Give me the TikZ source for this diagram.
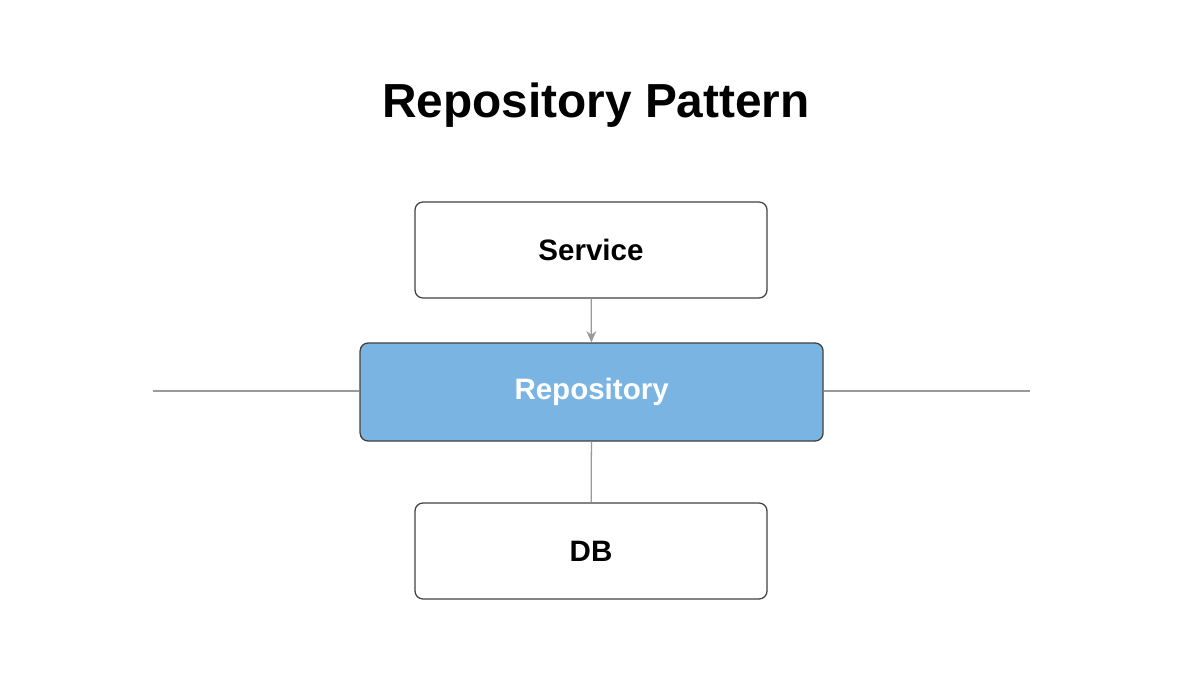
\documentclass[tikz,border=0pt]{standalone}
\usepackage{fontspec}
\setmainfont{Liberation Sans}
\usetikzlibrary{positioning, arrows.meta}
\definecolor{repoblue}{HTML}{7AB4E3}
\definecolor{linegray}{HTML}{9A9A9A}

\begin{document}
\begin{tikzpicture}
	\useasboundingbox (0,0) rectangle (30,16.875);
	\tikzset{box/.style={draw=black!75, line width=0.9pt, rounded corners=0.2cm, align=center, font=\fontsize{21}{25}\selectfont\bfseries}}
	\tikzset{conn/.style={draw=linegray, line width=0.9pt}}
	\node[font=\fontsize{34}{40}\selectfont\bfseries] (title) at (14.9, 14.25) {Repository Pattern};

	\node[box, minimum width=8.8cm, minimum height=2.4cm] (service) at (14.775, 10.625) {Service};
	\node[box, fill=repoblue, text=white, minimum width=11.575cm, minimum height=2.45cm] (repo) at (14.79, 7.075) {Repository};
	\node[box, minimum width=8.8cm, minimum height=2.4cm] (db) at (14.775, 3.1) {DB};
	\coordinate (left) at (3.825, 7.1);
	\coordinate (right) at (25.75, 7.1);

	\draw[conn, -{Stealth[length=8pt, width=7pt]}] (service) to (repo);
	\draw[conn] (repo) to (db);
	\draw[conn] (left) to (repo.west |- left);
	\draw[conn] (repo.east |- right) to (right);
\end{tikzpicture}
\end{document}
